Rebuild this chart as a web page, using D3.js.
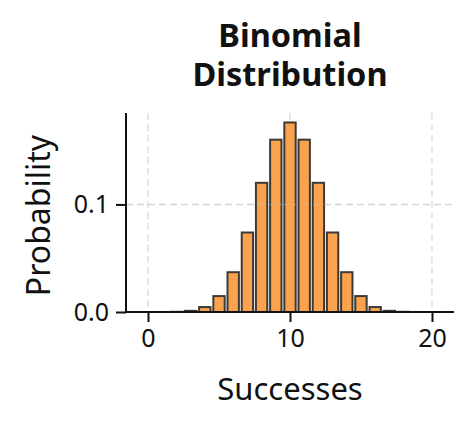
<!DOCTYPE html>
<html>
<head>
<meta charset="utf-8">
<script src="https://cdn.jsdelivr.net/npm/d3@7"></script>
<style>
  body { margin: 0; background: #fff; }
  text { font-family: "Noto Sans", "DejaVu Sans", sans-serif; fill: #111; }
</style>
</head>
<body>
<svg id="svg" width="474" height="429"></svg>
<script>
// data (n = 20 trials)
const successes = [0,1,2,3,4,5,6,7,8,9,10,11,12,13,14,15,16,17,18,19,20];
const probs = [0.000001,0.00002,0.00018,0.0011,0.0046,0.0148,0.037,0.0739,0.1201,0.1602,
               0.1762,0.1602,0.1201,0.0739,0.037,0.0148,0.0046,0.0011,0.00018,0.00002,0.000001];
const xTicks = [0, 10, 20];
const yTicks = [0.0, 0.1];
const titleLines = ['Binomial', 'Distribution'];

const margin = {top: 113, right: 20, bottom: 117, left: 126};
const W = 474, H = 429;
const width = W - margin.left - margin.right;
const height = H - margin.top - margin.bottom;

const svg = d3.select('#svg');
const g = svg.append('g').attr('transform', `translate(${margin.left},${margin.top})`);

const x = d3.scaleLinear().domain([-1.55, 21.55]).range([0, width]);
const y = d3.scaleLinear().domain([0, 0.185]).range([height, 0]);

// grid behind
const grid = g.append('g').attr('stroke', '#b0b0b0').attr('stroke-opacity', 0.4)
  .attr('stroke-width', 1.5).attr('stroke-dasharray', '7,4');
grid.selectAll('line.vx').data(xTicks).join('line')
  .attr('x1', d => x(d)).attr('x2', d => x(d)).attr('y1', 0).attr('y2', height);
grid.selectAll('line.hy').data(yTicks.filter(d => d > 0)).join('line')
  .attr('x1', 0).attr('x2', width).attr('y1', d => y(d)).attr('y2', d => y(d));

// bars
const bw = 0.8;
g.append('g').selectAll('rect')
  .data(successes).join('rect')
    .attr('x', d => x(d - bw/2))
    .attr('width', x(bw) - x(0))
    .attr('y', (d, i) => y(probs[i]))
    .attr('height', (d, i) => height - y(probs[i]))
    .attr('fill', '#fba24e')
    .attr('stroke', '#3d3a36')
    .attr('stroke-width', 2);

// grid on top (faint)
const grid2 = g.append('g').attr('stroke', '#c8c8c8').attr('stroke-opacity', 0.35)
  .attr('stroke-width', 1.5).attr('stroke-dasharray', '7,4');
grid2.selectAll('line').data(yTicks.filter(d => d > 0)).join('line')
  .attr('x1', 0).attr('x2', width).attr('y1', d => y(d)).attr('y2', d => y(d));

// axes
const xAxis = g.append('g').attr('transform', `translate(0,${height})`)
  .call(d3.axisBottom(x).tickValues(xTicks).tickFormat(d3.format('d')).tickSize(10).tickPadding(7));
const yAxis = g.append('g')
  .call(d3.axisLeft(y).tickValues(yTicks).tickFormat(d3.format('.1f')).tickSize(10).tickPadding(7));
[xAxis, yAxis].forEach(a => {
  a.select('.domain').attr('stroke', '#111').attr('stroke-width', 2);
  a.selectAll('.tick line').attr('stroke', '#111').attr('stroke-width', 2);
  a.selectAll('.tick text').attr('font-size', 25).attr('fill', '#111')
    .style('font-family', '"Noto Sans", sans-serif');
});
xAxis.select('.domain').attr('d', `M0,0H${width}`);
yAxis.select('.domain').attr('d', `M0,0V${height}`);

// labels
svg.append('text').attr('x', margin.left + width/2).attr('y', 400)
  .attr('text-anchor', 'middle').attr('font-size', 31).text('Successes');
svg.append('text').attr('transform', `translate(50,${margin.top + height/2 + 3}) rotate(-90)`)
  .attr('text-anchor', 'middle').attr('font-size', 32).text('Probability');
svg.append('g').selectAll('text').data(titleLines).join('text')
  .attr('x', margin.left + width/2).attr('y', (d, i) => 47 + i*39)
  .attr('text-anchor', 'middle').attr('font-size', 32.5).attr('font-weight', 'bold')
  .text(d => d);
</script>
</body>
</html>
